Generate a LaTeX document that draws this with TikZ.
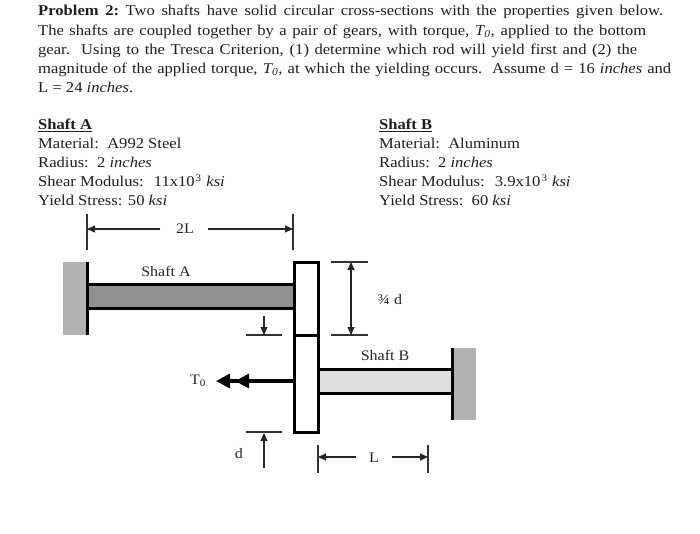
\documentclass[tikz,border=0pt]{standalone}
\usepackage{fontspec}
\setmainfont[FakeStretch=1.105]{Liberation Serif}
\usetikzlibrary{arrows.meta}
\newcommand{\linebox}[2]{\hbox to #1pt{#2}}
\newcommand{\supthree}{\kern1pt\raisebox{4.5pt}{\fontsize{10}{10}\selectfont 3}\kern1pt}
\tikzset{
  x=1pt,y=-1pt,
  txt/.style={anchor=base west,inner sep=0pt,font=\fontsize{15}{15}\selectfont,text=black!88},
  lbl/.style={inner sep=0pt,font=\fontsize{14.5}{14.5}\selectfont,text=black!85},
  part/.style={draw=black,line width=3pt,line join=miter},
  wall/.style={fill=black!30,draw=none},
  plate/.style={line width=3pt,draw=black},
  dimline/.style={line width=1.1pt,draw=black!80},
  dimarrow/.style={line width=1.1pt,draw=black!85,-{Triangle[length=8pt,width=7pt]}},
  bothtips/.style={{Triangle[length=8pt,width=7pt]}-{Triangle[length=8pt,width=7pt]}},
  torque/.style={line width=3.2pt,draw=black,-{Triangle[length=14pt,width=14pt,sep=5pt]Triangle[length=14pt,width=14pt]}}
}
\begin{document}
\begin{tikzpicture}
\useasboundingbox (0,0) rectangle (700,533);
% problem text
\node[txt] (l1) at (38,15.5) {\linebox{625}{\textbf{Problem 2:}\ Two shafts have solid circular cross-sections with the properties given below.}};
\node[txt] (l2) at (38,35) {\linebox{608}{The shafts are coupled together by a pair of gears, with torque, \textit{T\textsubscript{0},} applied to the bottom}};
\node[txt] (l3) at (38,54) {\linebox{599}{gear.\ \ Using to the Tresca Criterion, (1) determine which rod will yield first and (2) the}};
\node[txt] (l4) at (38,73) {\linebox{633}{magnitude of the applied torque, \textit{T\textsubscript{0},} at which the yielding occurs.\ \ Assume d = 16 \textit{inches} and}};
\node[txt] (l5) at (38,92) {L = 24 \textit{inches}.};
% shaft A block
\node[txt] (a0) at (38,129.5) {\textbf{\underline{Shaft A}}};
\node[txt] (a1) at (38,148) {Material:\ \ A992 Steel};
\node[txt] (a2) at (38,167) {Radius:\ \ 2 \textit{inches}};
\node[txt] (a3) at (38,186) {Shear Modulus:\ \ \kern2pt 11x10\supthree{} \textit{ksi}};
\node[txt] (a4) at (38,205) {Yield Stress: 50 \textit{ksi}};
% shaft B block
\node[txt] (b0) at (379,129.5) {\textbf{\underline{Shaft B}}};
\node[txt] (b1) at (379,148) {Material:\ \ Aluminum};
\node[txt] (b2) at (379,167) {Radius:\ \ 2 \textit{inches}};
\node[txt] (b3) at (379,186) {Shear Modulus:\ \ \kern2pt 3.9x10\supthree{} \textit{ksi}};
\node[txt] (b4) at (379,205) {Yield Stress:\ \ 60 \textit{ksi}};
% walls
\fill[wall] (63,262) rectangle (87,335);
\fill[wall] (452,348) rectangle (476,420);
% shafts
\draw[part,fill=black!43] (87,284) rectangle (294,308);
\draw[part,fill=black!12] (318,369) rectangle (452,393);
% wall faces
\draw[plate] (87,262) -- (87,335);
\draw[plate] (452,348) -- (452,420);
% gears
\draw[part,fill=white] (294,262) rectangle (318,335);
\draw[part,fill=white] (294,335) rectangle (318,432);
% labels
\node[lbl] (sa) at (166,271) {Shaft A};
\node[lbl] (sb) at (385,355) {Shaft B};
\node[lbl] (t0) at (198,381) {T\textsubscript{0}};
\node[lbl] (twoL) at (185,229) {2L};
\node[lbl] (qd) at (390,300) {¾ d};
\node[lbl] (dl) at (239,454) {d};
\node[lbl] (Ll) at (374,458) {L};
% torque
\coordinate (tstart) at (293,381);
\coordinate (ttip) at (216,381);
\draw[torque] (tstart) -- (ttip);
% 2L dimension
\coordinate (t1a) at (87,214); \coordinate (t1b) at (87,250);
\coordinate (t2a) at (293,214); \coordinate (t2b) at (293,250);
\draw[dimline] (t1a) -- (t1b);
\draw[dimline] (t2a) -- (t2b);
\coordinate (a2lL) at (160,229); \coordinate (a2lLt) at (87,229);
\coordinate (a2lR) at (208,229); \coordinate (a2lRt) at (293,229);
\draw[dimarrow] (a2lL) -- (a2lLt);
\draw[dimarrow] (a2lR) -- (a2lRt);
% 3/4 d dimension
\coordinate (q1a) at (331,262); \coordinate (q1b) at (368,262);
\coordinate (q2a) at (331,335); \coordinate (q2b) at (368,335);
\coordinate (q3) at (351,262); \coordinate (q4) at (351,335);
\draw[dimline] (q1a) -- (q1b);
\draw[dimline] (q2a) -- (q2b);
\draw[dimarrow,bothtips] (q3) -- (q4);
% d dimension
\coordinate (d1a) at (246,335); \coordinate (d1b) at (282,335);
\coordinate (d2a) at (246,432); \coordinate (d2b) at (282,432);
\coordinate (d3) at (264,316); \coordinate (d3t) at (264,335);
\coordinate (d4) at (264,468); \coordinate (d4t) at (264,433);
\draw[dimline] (d1a) -- (d1b);
\draw[dimline] (d2a) -- (d2b);
\draw[dimarrow] (d3) -- (d3t);
\draw[dimarrow] (d4) -- (d4t);
% L dimension
\coordinate (L1a) at (318,445); \coordinate (L1b) at (318,473);
\coordinate (L2a) at (428,445); \coordinate (L2b) at (428,473);
\draw[dimline] (L1a) -- (L1b);
\draw[dimline] (L2a) -- (L2b);
\coordinate (LaL) at (356,457); \coordinate (LaLt) at (318,457);
\coordinate (LaR) at (392,457); \coordinate (LaRt) at (428,457);
\draw[dimarrow] (LaL) -- (LaLt);
\draw[dimarrow] (LaR) -- (LaRt);
\end{tikzpicture}
\end{document}
